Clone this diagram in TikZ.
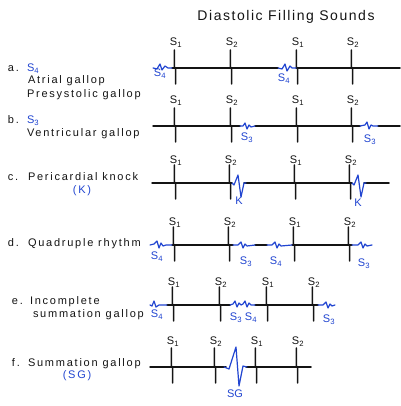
\documentclass[tikz,border=0pt]{standalone}
\usepackage{fontspec}
\setmainfont{Liberation Sans}
\newfontfamily\titlefont{Liberation Sans}[LetterSpace=11]
\newfontfamily\rowfont{Liberation Sans}[LetterSpace=16]
\definecolor[named]{drawColor}{rgb}{0.08,0.08,0.08}
\definecolor[named]{gallopColor}{rgb}{0.13,0.27,0.82}
\definecolor[named]{fillColor}{rgb}{1.00,1.00,1.00}
\begin{document}
\begin{tikzpicture}[x=1pt,y=1pt,
  trace/.style={draw=drawColor,line width=1.5pt,line join=round,line cap=round},
  gallop/.style={draw=gallopColor,line width=1.2pt,line join=round,line cap=round},
  rowtext/.style={text=drawColor,anchor=base west,inner sep=0pt,outer sep=0pt,font=\rowfont\fontsize{11}{13}\selectfont},
  bluetext/.style={text=gallopColor,inner sep=0pt,outer sep=0pt,font=\fontsize{11}{12}\selectfont},
  sound/.style={text=drawColor,anchor=base,inner sep=0pt,outer sep=0pt,font=\fontsize{11}{12}\selectfont}]
\path[use as bounding box,fill=fillColor] (0,0) rectangle (400,406);

\node[text=drawColor,anchor=base,inner sep=0pt,outer sep=0pt,font=\titlefont\fontsize{14}{16}\selectfont] (title) at (286,385) {Diastolic Filling Sounds};

\node[rowtext] (aTag) at (8,334.5) {a.};
\node[bluetext,anchor=base west] (aTagS4) at (27,334.5) {S\textsubscript{4}};
\node[rowtext] (aName1) at (28,322.7) {Atrial gallop};
\node[rowtext] (aName2) at (27,308.7) {Presystolic gallop};
\path[trace] (172,338) -- (278,338) (296,338) -- (400,338);
\path[trace] (174.4,356) -- (174.4,339) -- (175.6,337.5) -- (175.6,322);
\path[trace] (230.4,356) -- (230.4,339) -- (231.6,337.5) -- (231.6,322);
\path[trace] (296.4,356) -- (296.4,339) -- (297.6,337.5) -- (297.6,322);
\path[trace] (351.4,356) -- (351.4,339) -- (352.6,337.5) -- (352.6,322);
\path[gallop] (153,338) -- (157,337) -- (160,342) -- (162,336) -- (165,340) -- (168,338) -- (172,338);
\path[gallop] (278,338) -- (282,337) -- (285,342) -- (287,335) -- (290,340) -- (292,338) -- (296,338);
\node[sound] (aS1a) at (176,360) {S\textsubscript{1}};
\node[sound] (aS2a) at (232,360) {S\textsubscript{2}};
\node[sound] (aS1b) at (298,360) {S\textsubscript{1}};
\node[sound] (aS2b) at (353,360) {S\textsubscript{2}};
\node[bluetext,anchor=base] (aS4a) at (160,329) {S\textsubscript{4}};
\node[bluetext,anchor=base] (aS4b) at (284,324) {S\textsubscript{4}};

\node[rowtext] (bTag) at (8,282) {b.};
\node[bluetext,anchor=base west] (bTagS3) at (27,282) {S\textsubscript{3}};
\node[rowtext] (bName) at (27,269) {Ventricular gallop};
\path[trace] (153,280) -- (240,280) (255,280) -- (360,280) (378,280) -- (400,280);
\path[trace] (174.4,298) -- (174.4,281) -- (175.6,279.5) -- (175.6,264);
\path[trace] (230.4,298) -- (230.4,281) -- (231.6,279.5) -- (231.6,264);
\path[trace] (296.4,298) -- (296.4,281) -- (297.6,279.5) -- (297.6,264);
\path[trace] (351.4,298) -- (351.4,281) -- (352.6,279.5) -- (352.6,264);
\path[gallop] (240,280) -- (243,280) -- (245,283) -- (247,277) -- (249,281) -- (251,279) -- (255,280);
\path[gallop] (360,280) -- (365,281) -- (367,284) -- (369,277) -- (371,281) -- (373,280) -- (378,280);
\node[sound] (bS1a) at (176,302) {S\textsubscript{1}};
\node[sound] (bS2a) at (232,302) {S\textsubscript{2}};
\node[sound] (bS1b) at (298,302) {S\textsubscript{1}};
\node[sound] (bS2b) at (353,302) {S\textsubscript{2}};
\node[bluetext,anchor=base] (bS3a) at (247,265) {S\textsubscript{3}};
\node[bluetext,anchor=base] (bS3b) at (370,263) {S\textsubscript{3}};

\node[rowtext] (cTag) at (8,225) {c.};
\node[rowtext] (cName) at (28,225) {Pericardial knock};
\node[bluetext,anchor=base,font=\rowfont\fontsize{11}{13}\selectfont] (cTagK) at (82,212) {(K)};
\path[trace] (152,223) -- (232,223) (244,223) -- (352,223) (364,223) -- (389,223);
\path[trace] (174.4,241) -- (174.4,224) -- (175.6,222.5) -- (175.6,207);
\path[trace] (229.4,241) -- (229.4,224) -- (230.6,222.5) -- (230.6,207);
\path[trace] (294.4,241) -- (294.4,224) -- (295.6,222.5) -- (295.6,207);
\path[trace] (349.4,241) -- (349.4,224) -- (350.6,222.5) -- (350.6,207);
\path[gallop] (232,223) -- (234,221) -- (238,231) -- (241,209) -- (244,223) -- (246,223);
\path[gallop] (352,223) -- (354,221) -- (358,231) -- (361,209) -- (364,223) -- (366,223);
\node[sound] (cS1a) at (176,242) {S\textsubscript{1}};
\node[sound] (cS2a) at (231,242) {S\textsubscript{2}};
\node[sound] (cS1b) at (296,242) {S\textsubscript{1}};
\node[sound] (cS2b) at (351,242) {S\textsubscript{2}};
\node[bluetext,anchor=base] (cKa) at (239,201) {K};
\node[bluetext,anchor=base] (cKb) at (358,199) {K};

\node[rowtext] (dTag) at (8,159) {d.};
\node[rowtext] (dName) at (28,159) {Quadruple rhythm};
\path[trace] (172,161) -- (233,161) (255,161) -- (267,161) (292,161) -- (352,161);
\path[trace] (173.4,179) -- (173.4,162) -- (174.6,160.5) -- (174.6,145);
\path[trace] (228.4,179) -- (228.4,162) -- (229.6,160.5) -- (229.6,145);
\path[trace] (293.4,179) -- (293.4,162) -- (294.6,160.5) -- (294.6,145);
\path[trace] (348.4,179) -- (348.4,162) -- (349.6,160.5) -- (349.6,145);
\path[gallop] (150,161) -- (154,162) -- (157,165) -- (159,158) -- (161,163) -- (163,160) -- (166,161) -- (172,161);
\path[gallop] (233,161) -- (238,161) -- (241,164) -- (243,158) -- (245,162) -- (247,160) -- (255,161);
\path[gallop] (267,161) -- (272,161) -- (275,164) -- (277,158) -- (279,162) -- (281,160) -- (292,161);
\path[gallop] (352,161) -- (358,161) -- (361,164) -- (363,158) -- (365,162) -- (367,160) -- (372,161);
\node[sound] (dS1a) at (175,180) {S\textsubscript{1}};
\node[sound] (dS2a) at (230,180) {S\textsubscript{2}};
\node[sound] (dS1b) at (295,180) {S\textsubscript{1}};
\node[sound] (dS2b) at (350,180) {S\textsubscript{2}};
\node[bluetext,anchor=base] (dS4a) at (157,146) {S\textsubscript{4}};
\node[bluetext,anchor=base] (dS3a) at (246,141) {S\textsubscript{3}};
\node[bluetext,anchor=base] (dS4b) at (276,141) {S\textsubscript{4}};
\node[bluetext,anchor=base] (dS3b) at (364,139) {S\textsubscript{3}};

\node[rowtext] (eTag) at (12,101) {e.};
\node[rowtext] (eName1) at (30,101) {Incomplete};
\node[rowtext] (eName2) at (33,88) {summation gallop};
\path[trace] (167,101) -- (230,101) (255,101) -- (318,101);
\path[trace] (172.4,119) -- (172.4,102) -- (173.6,100.5) -- (173.6,85);
\path[trace] (219.4,119) -- (219.4,102) -- (220.6,100.5) -- (220.6,85);
\path[trace] (266.4,119) -- (266.4,102) -- (267.6,100.5) -- (267.6,85);
\path[trace] (312.4,119) -- (312.4,102) -- (313.6,100.5) -- (313.6,85);
\path[gallop] (150,101) -- (152,100) -- (154,105) -- (156,99) -- (159,101) -- (167,101);
\path[gallop] (230,101) -- (233,102) -- (235,105) -- (237,99) -- (239,103) -- (241,101) -- (243,102) -- (245,105) -- (247,99) -- (249,103) -- (251,101) -- (255,101);
\path[gallop] (318,101) -- (323,101) -- (326,104) -- (328,98) -- (330,102) -- (332,100) -- (335,101);
\node[sound] (eS1a) at (174,120) {S\textsubscript{1}};
\node[sound] (eS2a) at (221,120) {S\textsubscript{2}};
\node[sound] (eS1b) at (268,120) {S\textsubscript{1}};
\node[sound] (eS2b) at (314,120) {S\textsubscript{2}};
\node[bluetext,anchor=base] (eS4a) at (157,88) {S\textsubscript{4}};
\node[bluetext,anchor=base] (eS3a) at (236,85) {S\textsubscript{3}};
\node[bluetext,anchor=base] (eS4b) at (251,85) {S\textsubscript{4}};
\node[bluetext,anchor=base] (eS3b) at (329,83) {S\textsubscript{3}};

\node[rowtext] (fTag) at (12,39) {f.};
\node[rowtext] (fName) at (28,39) {Summation gallop};
\node[bluetext,anchor=base,font=\rowfont\fontsize{11}{13}\selectfont] (fTagSG) at (77,27) {(SG)};
\path[trace] (150,39) -- (226,39) (246,39) -- (311,39);
\path[trace] (171.4,58) -- (171.4,40) -- (172.6,38.5) -- (172.6,23);
\path[trace] (214.4,58) -- (214.4,40) -- (215.6,38.5) -- (215.6,23);
\path[trace] (255.4,58) -- (255.4,40) -- (256.6,38.5) -- (256.6,23);
\path[trace] (296.4,58) -- (296.4,40) -- (297.6,38.5) -- (297.6,23);
\path[gallop] (224,39) -- (229,37) -- (236,59) -- (239,20) -- (243,40) -- (247,39);
\node[sound] (fS1a) at (173,61) {S\textsubscript{1}};
\node[sound] (fS2a) at (216,61) {S\textsubscript{2}};
\node[sound] (fS1b) at (257,61) {S\textsubscript{1}};
\node[sound] (fS2b) at (298,61) {S\textsubscript{2}};
\node[bluetext,anchor=base] (fSG) at (235,9) {SG};
\end{tikzpicture}
\end{document}
